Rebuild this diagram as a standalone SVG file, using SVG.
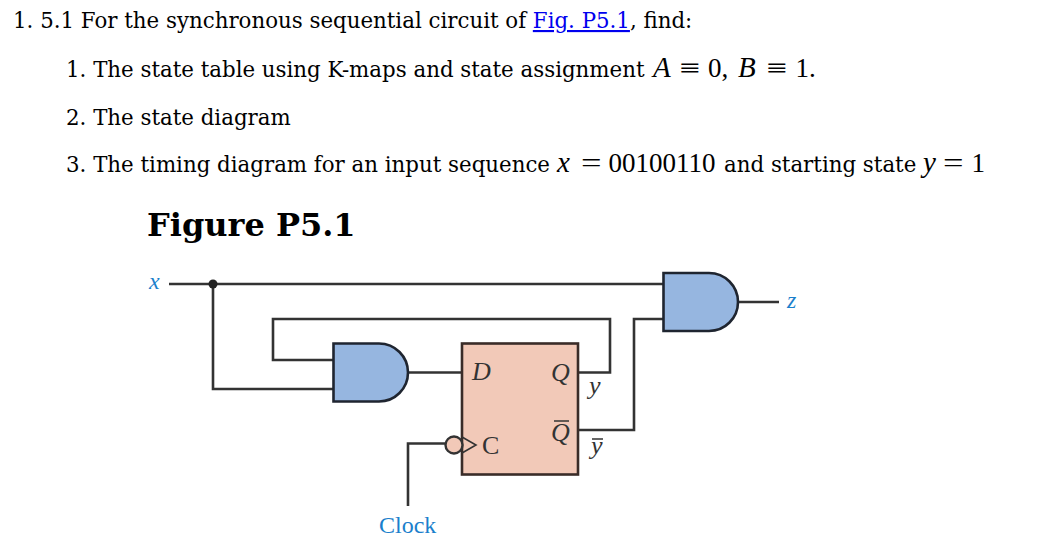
<svg xmlns="http://www.w3.org/2000/svg" width="1045" height="541" viewBox="0 0 1045 541">
<style>
.t{font-family:"DejaVu Serif",serif;font-size:21.33px;fill:#000}
.m{font-family:"Liberation Serif",serif;font-size:27px;fill:#000}
.v{font-family:"Liberation Serif",serif;font-size:29px;fill:#000;font-style:italic}
.q{font-family:"Liberation Serif",serif;font-size:27px;fill:#000}
.i{font-style:italic}
.w{fill:none;stroke:#333;stroke-width:2.6}
.g{fill:#96b6e0;stroke:#1f2530;stroke-width:2.6}
.l{font-family:"Liberation Serif",serif;fill:#333;font-size:26px}
.b{font-family:"Liberation Serif",serif;fill:#1b7fcc;font-size:24px}
</style>
<rect width="1045" height="541" fill="#fff"/>
<g id="text">
<text class="t" x="13" y="28">1. 5.1 For the synchronous sequential circuit of <tspan fill="#0000ee" text-decoration="underline">Fig. P5.1</tspan>, find:</text>
<text class="t" x="66" y="77">1. The state table using K-maps and state assignment</text>
<text class="v" x="653" y="77">A</text><text class="q" transform="translate(679.500 77) scale(1.35 1)">≡</text><text class="m" x="708" y="77">0,</text>
<text class="v" x="738" y="77">B</text><text class="q" transform="translate(766.500 77) scale(1.35 1)">≡</text><text class="m" x="795.500" y="77">1.</text>
<text class="t" x="66" y="125">2. The state diagram</text>
<text class="t" x="66" y="172">3. The timing diagram for an input sequence</text>
<text class="v" x="557" y="172">x</text><text class="q" transform="translate(581 172) scale(1.35 1)">=</text><text class="m" x="608.500" y="172">00100110</text>
<text class="t" x="724" y="172">and starting state</text>
<text class="v" x="923" y="172">y</text><text class="q" transform="translate(943 172) scale(1.35 1)">=</text><text class="m" x="971.500" y="172">1</text>
<text x="147" y="236" font-family="DejaVu Serif, serif" font-weight="bold" font-size="32px">Figure P5.1</text>
</g>
<g id="connectors">
<path class="w" d="M169 284H663"/>
<path class="w" d="M213 284V389H333"/>
<path class="w" d="M333 360H273V319H610V372.500H578"/>
<path class="w" d="M408 372.500H462"/>
<path class="w" d="M578 430H634V319H663"/>
<path class="w" d="M738 302H779"/>
<path class="w" d="M408 506V443.500H446"/>
<circle cx="213" cy="284" r="4.500" fill="#222"/>
</g>
<g id="and1"><path class="g" d="M333.500 343.500H379A29 29 0 0 1 379 401.500H333.500Z"/></g>
<g id="and2"><path class="g" d="M663.500 273H709A29 29 0 0 1 709 331H663.500Z"/></g>
<g id="ff">
<rect x="462" y="343.500" width="116" height="131" fill="#f2c9b8" stroke="#3a2c28" stroke-width="2.600"/>
<circle cx="454" cy="445" r="8.500" fill="#f2c9b8" stroke="#333" stroke-width="2.400"/>
<path d="M462 437L476 445L462 453" fill="none" stroke="#333" stroke-width="1.600"/>
<text class="l i" x="472" y="380">D</text>
<text class="l i" x="551" y="381">Q</text>
<text class="l i" x="551" y="441">Q</text>
<path d="M554 421H569" stroke="#333" stroke-width="1.500"/>
<text class="l" x="482" y="454">C</text>
</g>
<g id="labels">
<text class="b i" x="149" y="289">x</text>
<text class="b i" x="787" y="308">z</text>
<text class="b" x="379" y="533">Clock</text>
<text class="l i" x="589" y="394">y</text>
<text class="l i" x="591" y="454">y</text>
<path d="M592 439H603" stroke="#333" stroke-width="1.500"/>
</g>
</svg>
